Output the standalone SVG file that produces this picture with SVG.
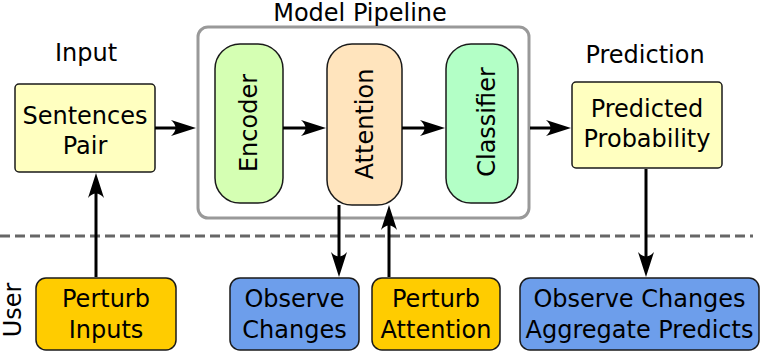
<svg xmlns="http://www.w3.org/2000/svg" width="763" height="353" viewBox="0 0 763 353">
<defs>
<style>
text{font-family:"DejaVu Sans","Liberation Sans",sans-serif;font-size:24px;fill:#000;text-anchor:middle}
.box{stroke:#1a1a1a;stroke-width:1.5}
.conn{stroke:#000;stroke-width:3;fill:none}
</style>
<marker id="ah" viewBox="-26 -10 28 20" markerWidth="28" markerHeight="20" markerUnits="userSpaceOnUse" refX="-12" refY="0" orient="auto">
<path d="M0,0 L-25,-8 C-19,-3 -19,3 -25,8 Z" fill="#000"/>
</marker>
</defs>
<rect width="763" height="353" fill="#fff"/>
<g id="pipeline">
<rect x="198" y="27" width="331" height="191" rx="10" fill="#fff" stroke="#999" stroke-width="3"/>
<text x="360" y="21">Model Pipeline</text>
</g>
<g id="input-label"><text x="86" y="61">Input</text></g>
<g id="prediction-label"><text x="645" y="63">Prediction</text></g>
<g id="user-label"><text transform="translate(21,310) rotate(-90)">User</text></g>
<g id="sentences">
<rect class="box" x="15" y="84" width="140" height="88" rx="4" fill="#ffffc0"/>
<text x="85" y="124">Sentences</text>
<text x="85" y="154">Pair</text>
</g>
<g id="encoder">
<rect class="box" x="215" y="44" width="68" height="159" rx="25" fill="#d5ffb3"/>
<text transform="translate(257,123) rotate(-90)">Encoder</text>
</g>
<g id="attention">
<rect class="box" x="327" y="44" width="75" height="161" rx="25" fill="#ffe4bd"/>
<text transform="translate(373,124) rotate(-90)">Attention</text>
</g>
<g id="classifier">
<rect class="box" x="446" y="44" width="72" height="159" rx="25" fill="#b3ffc6"/>
<text transform="translate(495,122) rotate(-90)">Classifier</text>
</g>
<g id="predicted">
<rect class="box" x="572" y="82" width="150" height="86" rx="4" fill="#ffffc0"/>
<text x="647" y="117">Predicted</text>
<text x="647" y="147">Probability</text>
</g>
<g id="perturb-inputs">
<rect class="box" x="36" y="278" width="140" height="72" rx="10" fill="#ffcc00"/>
<text x="106" y="307">Perturb</text>
<text x="106" y="338">Inputs</text>
</g>
<g id="observe-changes">
<rect class="box" x="230" y="278" width="129" height="72" rx="10" fill="#6d9eeb"/>
<text x="294.5" y="307">Observe</text>
<text x="294.5" y="338">Changes</text>
</g>
<g id="perturb-attention">
<rect class="box" x="372" y="278" width="128" height="72" rx="10" fill="#ffcc00"/>
<text x="436" y="307">Perturb</text>
<text x="436" y="338">Attention</text>
</g>
<g id="observe-aggregate">
<rect class="box" x="520" y="278" width="239" height="72" rx="10" fill="#6d9eeb"/>
<text x="639.5" y="307">Observe Changes</text>
<text x="639.5" y="338">Aggregate Predicts</text>
</g>
<g id="divider">
<line x1="0" y1="236" x2="753" y2="236" stroke="#666" stroke-width="3" stroke-dasharray="10 5"/>
</g>
<g id="connectors">
<line class="conn" x1="155" y1="128" x2="184" y2="128" marker-end="url(#ah)"/>
<line class="conn" x1="283" y1="128" x2="314" y2="128" marker-end="url(#ah)"/>
<line class="conn" x1="402" y1="128" x2="433" y2="128" marker-end="url(#ah)"/>
<line class="conn" x1="530" y1="128" x2="559" y2="128" marker-end="url(#ah)"/>
<line class="conn" x1="96" y1="277" x2="96" y2="185" marker-end="url(#ah)"/>
<line class="conn" x1="339" y1="205" x2="339" y2="265" marker-end="url(#ah)"/>
<line class="conn" x1="389" y1="277" x2="389" y2="217" marker-end="url(#ah)"/>
<line class="conn" x1="646" y1="169" x2="646" y2="265" marker-end="url(#ah)"/>
</g>
</svg>
